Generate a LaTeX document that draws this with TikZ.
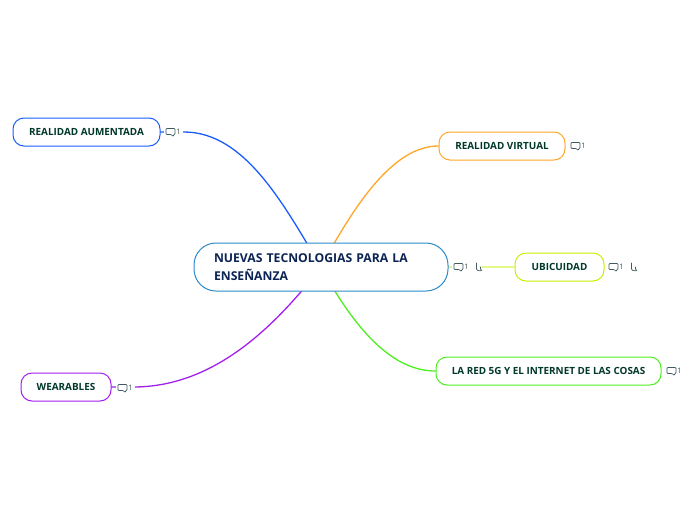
\documentclass[tikz,border=0pt]{standalone}
\usepackage{fontspec}
\setmainfont{Open Sans}
\definecolor{cblue}{HTML}{1B5CFF}
\definecolor{corange}{HTML}{FFA726}
\definecolor{climeborder}{HTML}{C4F000}
\definecolor{climeline}{HTML}{E2F98A}
\definecolor{cgreen}{HTML}{4DF01F}
\definecolor{cpurple}{HTML}{A31FF0}
\definecolor{cmain}{HTML}{2B8CCB}
\definecolor{ctext}{HTML}{00382A}
\definecolor{cmaintext}{HTML}{0C2454}
\definecolor{cicon}{HTML}{3F5A60}
\usetikzlibrary{calc}
\tikzset{
  x=1pt,y=-1pt,
  child/.style={draw,line width=1pt,fill=white,rounded corners=11pt,minimum height=28pt,inner sep=0pt,anchor=center,font=\fontsize{9.9}{11}\selectfont\bfseries,text=ctext},
  mainnode/.style={draw=cmain,line width=1pt,fill=white,rounded corners=22pt,minimum width=254pt,minimum height=48pt,inner sep=0pt,anchor=center},
  conn/.style={line width=1.3pt,line cap=round},
  limeconn/.style={draw=climeline,line width=1.2pt},
  cnote/.style={fill=white,inner sep=0pt,minimum width=19pt,minimum height=11pt,anchor=center},
  cnum/.style={font=\fontsize{7.5}{8}\selectfont,text=cicon,inner sep=0pt},
}
\newcommand{\noteicon}[1]{%
  \draw[cicon,line width=.7pt,rounded corners=.8pt,line join=round]
    ($(#1)+(-7,-3.5)$) -- ++(9,0) -- ++(0,6) -- ++(-1.5,0) -- ++(0,2) -- ++(-2.5,-2) -- ++(-5,0) -- cycle;
  \node[cnum] at ($(#1)+(5.5,0)$) {1};}
\newcommand{\linkicon}[1]{%
  \draw[cicon,line width=.7pt,line cap=round]
    ($(#1)+(-1.5,-4)$) -- ++(0,6) .. controls +(0,2.5) and +(4,2.5) .. ++(4,0) -- ++(0,-2);}
\begin{document}
\begin{tikzpicture}
\useasboundingbox (0,0) rectangle (696,520);
\fill[white] (0,0) rectangle (696,520);
\coordinate (cc) at (321,267);
\node[child,draw=cblue,minimum width=147pt] (ra) at (86.5,132) {REALIDAD AUMENTADA};
\node[child,draw=corange,minimum width=126pt] (rv) at (502,146) {REALIDAD VIRTUAL};
\node[child,draw=climeborder,minimum width=89pt] (ub) at (559.5,267) {UBICUIDAD};
\node[child,draw=cgreen,minimum width=225pt] (red) at (548.5,371) {LA RED 5G Y EL INTERNET DE LAS COSAS};
\node[child,draw=cpurple,minimum width=90pt] (we) at (66,387) {WEARABLES};
\draw[conn,cblue] (ra.east) -- (184,132) .. controls (245,132) and (284,205) .. (cc);
\draw[conn,corange] (rv.west) .. controls (395,146) and (357,200) .. (cc);
\draw[conn,cgreen] (red.west) .. controls (395,371) and (358,335) .. (cc);
\draw[conn,cpurple] (we.east) -- (133,387) .. controls (205,387) and (265,340) .. (cc);
\draw[limeconn] (cc) -- (ub.west);
\node[mainnode,align=left,text width=214pt,text=cmaintext,font=\fontsize{12.2}{17.5}\selectfont\bfseries] (c) at (cc) {NUEVAS TECNOLOGIAS PARA LA\\ENSEÑANZA};
\node[cnote] (n1) at (173,132) {};
\noteicon{n1}
\node[cnote] (n2) at (578,146) {};
\noteicon{n2}
\node[cnote,minimum width=30pt] (n3) at (467,267) {};
\noteicon{$(n3)+(-6,0)$}
\linkicon{$(n3)+(11,0)$}
\node[cnote,minimum width=30pt] (n4) at (622,267) {};
\noteicon{$(n4)+(-6,0)$}
\linkicon{$(n4)+(11,0)$}
\node[cnote] (n5) at (674,371) {};
\noteicon{n5}
\node[cnote] (n6) at (125,388) {};
\noteicon{n6}
\end{tikzpicture}
\end{document}
